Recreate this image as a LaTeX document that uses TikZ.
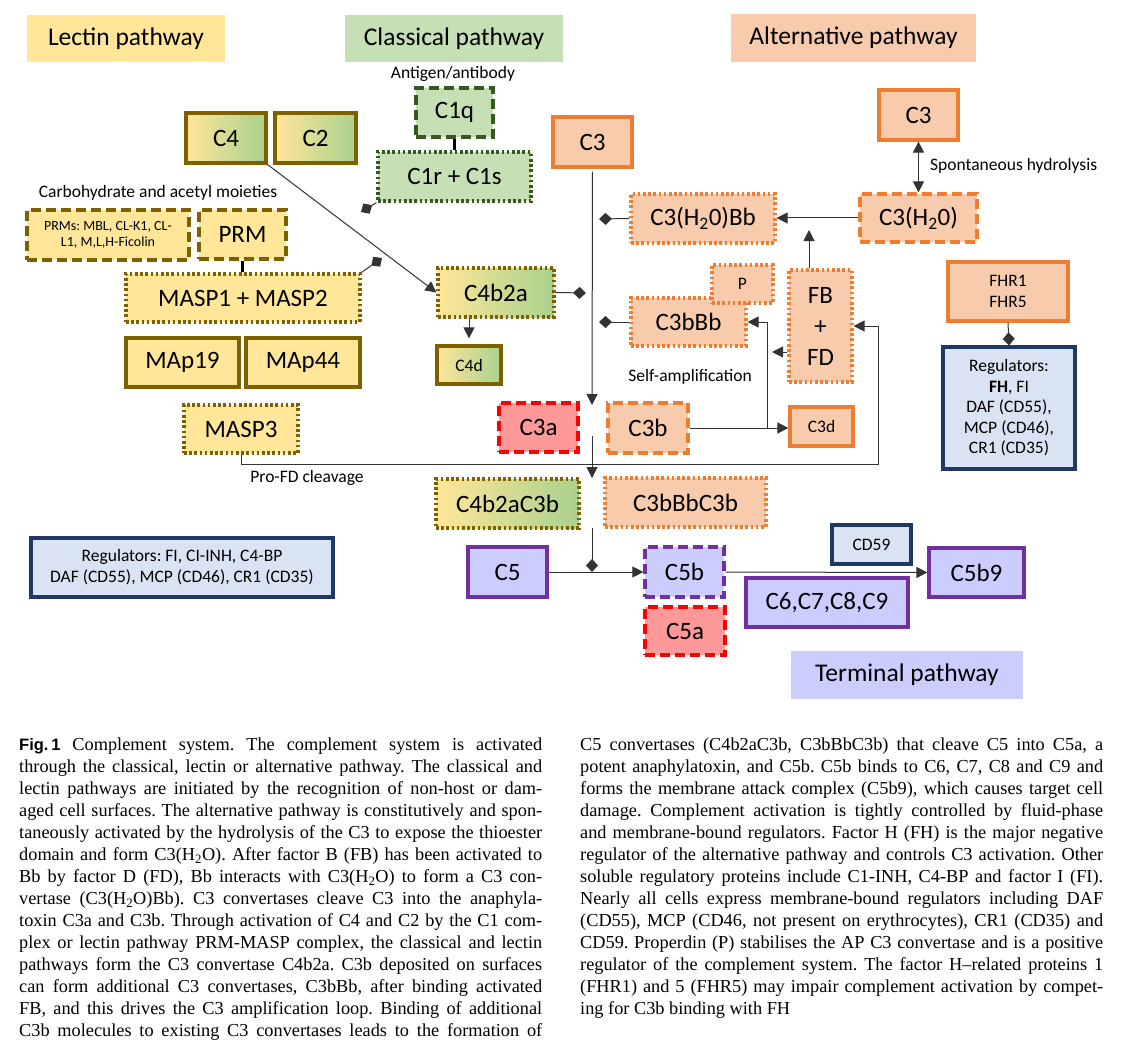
\documentclass[tikz,border=0pt]{standalone}
\usepackage{fontspec}
\setmainfont{Liberation Serif}
\setsansfont{Liberation Sans}
\newfontfamily\calfont{Carlito}
\usepackage{graphicx}
\usetikzlibrary{arrows.meta}
\frenchspacing

\definecolor{yel}{HTML}{FFE699}
\definecolor{grn}{HTML}{C5E0B4}
\definecolor{grnd}{HTML}{A9D18E}
\definecolor{pch}{HTML}{F8CBAD}
\definecolor{brn}{HTML}{7F6000}
\definecolor{dgr}{HTML}{385723}
\definecolor{org}{HTML}{ED7D31}
\definecolor{rd}{HTML}{FF0000}
\definecolor{pnk}{HTML}{FF9999}
\definecolor{pur}{HTML}{7030A0}
\definecolor{lav}{HTML}{CCCCFF}
\definecolor{nvy}{HTML}{203864}
\definecolor{lbl}{HTML}{DAE3F3}

\newlength\colw
\setlength\colw{523pt}
\newsavebox\jlbox
\newcommand\jl[1]{\sbox\jlbox{#1}\ifdim\wd\jlbox>\colw\resizebox{\colw}{\height}{#1}\else\makebox[\colw][s]{#1}\fi\par}
\newcommand\lastl[1]{#1\par}
\newcommand\figl{{\sffamily\bfseries\fontsize{16.5}{22}\selectfont Fig.\,1}}

\newcommand\bx[7]{\node[#1,minimum width={(#5)-(#3)},minimum height={(#6)-(#4)}] (#2) at ({((#3)+(#5))/2},{((#4)+(#6))/2}) {#7};}

\tikzset{
  base/.style={inner sep=0pt, align=center, font=\calfont\fontsize{25}{31}\selectfont, text=black},
  sm/.style={font=\calfont\fontsize{17.5}{21}\selectfont, align=center, inner sep=0pt},
  ttl/.style={inner sep=0pt, font=\calfont\fontsize{25.5}{30}\selectfont},
  solidb/.style={draw, line width=3.2pt},
  dotb/.style={draw, line width=3.2pt, dash pattern=on 2.6pt off 2.6pt},
  dashb/.style={draw, line width=3.2pt, dash pattern=on 10pt off 5pt},
  yelb/.style={fill=yel, draw=brn},
  gradb/.style={left color=yel, right color=grnd, draw=brn},
  greenb/.style={fill=grn, draw=dgr},
  peachb/.style={fill=pch, draw=org},
  redb/.style={fill=pnk, draw=rd},
  purb/.style={fill=lav, draw=pur},
  navb/.style={fill=lbl, draw=nvy, line width=3.2pt},
  con/.style={draw=black!80, line width=1pt},
  arr/.style={con, -{Triangle[length=11pt,width=11pt]}},
  darr/.style={con, {Triangle[length=11pt,width=11pt]}-{Triangle[length=11pt,width=11pt]}},
  dia/.style={con, -{Diamond[length=13pt,width=12pt]}},
  thk/.style={draw=black, line width=3pt},
}

\begin{document}
\begin{tikzpicture}[x=1pt,y=-1pt]
\fill[white] (0,0) rectangle (1135,1051);
\useasboundingbox (0,0) rectangle (1135,1051);

% titles
\bx{ttl, fill=yel}{LT}{27}{15}{225}{62}{Lectin pathway}
\bx{ttl, fill=grn}{CT}{345}{15}{563}{62}{Classical pathway}
\bx{ttl, fill=pch}{AT}{731}{14}{976}{62}{Alternative pathway}
\bx{ttl, fill=lav}{TT}{791}{651}{1023}{699}{Terminal pathway}

% classical
\node[sm] (ag) at (453,74) {Antigen/antibody};
\bx{base, dashb, greenb}{C1q}{416}{88}{493}{137}{C1q}
\bx{base, dotb, greenb}{C1r}{378}{152}{531}{201}{C1r + C1s}

% lectin
\bx{base, solidb, gradb}{C4}{186}{113}{266}{163}{C4}
\bx{base, solidb, gradb}{C2}{275}{113}{356}{163}{C2}
\node[sm] (carb) at (158,193) {Carbohydrate and acetyl moieties};
\bx{base, dashb, yelb, font=\calfont\fontsize{14}{16}\selectfont}{PRMs}{27}{210}{189}{260}{PRMs: MBL, CL-K1, CL-\\L1, M,L,H-Ficolin}
\bx{base, dashb, yelb}{PRM}{199}{210}{286}{259}{PRM}
\bx{base, dotb, yelb}{MASP}{126}{274}{360}{322}{MASP1 + MASP2}
\bx{base, solidb, yelb}{MAp19}{126}{338}{239}{387}{MAp19}
\bx{base, solidb, yelb}{MAp44}{246}{338}{360}{387}{MAp44}
\bx{base, dotb, yelb}{MASP3}{184}{405}{298}{453}{MASP3}
\node[sm] (proFD) at (307,478) {Pro-FD cleavage};

% centre
\bx{base, dotb, gradb}{C4b2a}{438}{268}{554}{317}{C4b2a}
\bx{base, solidb, gradb, font=\calfont\fontsize{17.5}{21}\selectfont}{C4d}{437}{346}{501}{384}{C4d}
\bx{base, solidb, peachb}{C3}{553}{117}{632}{167}{C3}
\bx{base, dashb, redb}{C3a}{499}{403}{578}{452}{C3a}
\bx{base, dashb, peachb}{C3b}{608}{403}{688}{453}{C3b}
\bx{base, dotb, peachb}{C3H2OBb}{631}{194}{775}{243}{C3(H\textsubscript{2}0)Bb}
\bx{base, dotb, peachb}{C3bBb}{631}{298}{746}{346}{C3bBb}
\bx{base, dotb, peachb, font=\calfont\fontsize{17.5}{21}\selectfont}{P}{712}{265}{773}{303}{P}
\bx{base, dotb, peachb}{FBFD}{789}{270}{852}{382}{FB\\+\\FD}
\node[sm] (self) at (690,377) {Self-amplification};
\bx{base, solidb, peachb, font=\calfont\fontsize{17.5}{21}\selectfont}{C3d}{790}{407}{853}{446}{C3d}

% right
\bx{base, solidb, peachb}{C3r}{879}{90}{958}{140}{C3}
\bx{base, dashb, peachb}{C3H2O}{860}{194}{977}{242}{C3(H\textsubscript{2}0)}
\node[sm, anchor=west] (spont) at (930,166) {Spontaneous hydrolysis};
\bx{base, solidb, peachb, font=\calfont\fontsize{17.5}{21}\selectfont}{FHR}{948}{262}{1068}{321}{FHR1\\FHR5}
\bx{base, navb, font=\calfont\fontsize{17.5}{20.5}\selectfont}{RegR}{943}{347}{1075}{469}{Regulators:\\\textbf{FH}, FI\\DAF (CD55),\\MCP (CD46),\\CR1 (CD35)}

% bottom
\bx{base, dotb, gradb}{C4C3b}{436}{479}{579}{528}{C4b2aC3b}
\bx{base, dotb, peachb}{C3C3b}{605}{478}{766}{527}{C3bBbC3b}
\bx{base, navb, font=\calfont\fontsize{17.5}{21}\selectfont}{RegL}{31}{538}{333}{597}{Regulators: FI, CI-INH, C4-BP\\DAF (CD55), MCP (CD46), CR1 (CD35)}
\bx{base, solidb, purb}{C5}{468}{547}{547}{597}{C5}
\bx{base, dashb, purb}{C5b}{645}{547}{724}{597}{C5b}
\bx{base, dashb, redb}{C5a}{645}{607}{725}{655}{C5a}
\bx{base, navb, font=\calfont\fontsize{17.5}{21}\selectfont}{CD59}{832}{525}{911}{564}{CD59}
\bx{base, solidb, purb}{C5b9}{929}{548}{1024}{597}{C5b9}
\bx{base, solidb, purb}{C6}{746}{578}{908}{627}{C6,C7,C8,C9}

% connectors
\draw[thk] (C1q.south) -- (C1r.north);
\coordinate (d1) at (361,212);
\draw[dia] (C1r.south west) -- (d1);
\draw[thk] (PRM.south) -- (PRM.south |- MASP.north);
\coordinate (d2) at (382,258);
\draw[dia] (MASP.north east) -- (d2);
\draw[arr] (C4.south east) -- (C4b2a.west);
\coordinate (d3) at (586,293);
\draw[dia] (C4b2a.east) -- (d3);
\draw[arr, shorten >=6pt] (C4b2a.south -| C4d.north) -- (C4d.north);
\coordinate (s1) at (592,405);
\draw[arr, shorten <=3pt] (C3.south) -- (s1);
\coordinate (s2) at (592,436);
\coordinate (s3) at (592,478);
\draw[arr] (s2) -- (s3);
\coordinate (d4) at (599,219);
\draw[dia] (C3H2OBb.west) -- (d4);
\coordinate (d5) at (599,322);
\draw[dia] (C3bBb.west) -- (d5);
\draw[arr] (C3H2O.west) -- (C3H2O.west -| C3H2OBb.east);
\coordinate (fbu) at (809,230);
\draw[arr] (fbu |- FBFD.north) -- (fbu);
\coordinate (fbl) at (772,352);
\draw[arr] (fbl -| FBFD.west) -- (fbl);
\draw[darr] (C3r.south) -- (C3H2O.north);
\draw[arr] (C3b.east) -- (C3b.east -| C3d.west);
\coordinate (br) at (767,428);
\draw[arr] (br) |- (C3bBb.east);
\coordinate (loop) at (878,464);
\draw[arr] (MASP3.south) |- (loop) |- (FBFD.east);
\draw[dia] (FHR.south) -- (RegR.north);
\coordinate (s4) at (592,528);
\coordinate (d6) at (592,572);
\draw[dia] (s4) -- (d6);
\draw[arr] (C5.east) -- (C5b.west);
\draw[arr] (C5b.east) -- (C5b9.west);

% caption
\node[anchor=base west, inner sep=0pt] (capL) at (19,750.5) {\parbox[t]{\colw}{\fontsize{18.3}{22}\selectfont\parindent0pt
\jl{\figl\ Complement system. The complement system is activated}
\jl{through the classical, lectin or alternative pathway. The classical and}
\jl{lectin pathways are initiated by the recognition of non-host or dam-}
\jl{aged cell surfaces. The alternative pathway is constitutively and spon-}
\jl{taneously activated by the hydrolysis of the C3 to expose the thioester}
\jl{domain and form C3(H\textsubscript{2}O). After factor B (FB) has been activated to}
\jl{Bb by factor D (FD), Bb interacts with C3(H\textsubscript{2}O) to form a C3 con-}
\jl{vertase (C3(H\textsubscript{2}O)Bb). C3 convertases cleave C3 into the anaphyla-}
\jl{toxin C3a and C3b. Through activation of C4 and C2 by the C1 com-}
\jl{plex or lectin pathway PRM-MASP complex, the classical and lectin}
\jl{pathways form the C3 convertase C4b2a. C3b deposited on surfaces}
\jl{can form additional C3 convertases, C3bBb, after binding activated}
\jl{FB, and this drives the C3 amplification loop. Binding of additional}
\jl{C3b molecules to existing C3 convertases leads to the formation of}}};

\node[anchor=base west, inner sep=0pt] (capR) at (580,750.5) {\parbox[t]{\colw}{\fontsize{18.3}{22}\selectfont\parindent0pt
\jl{C5 convertases (C4b2aC3b, C3bBbC3b) that cleave C5 into C5a, a}
\jl{potent anaphylatoxin, and C5b. C5b binds to C6, C7, C8 and C9 and}
\jl{forms the membrane attack complex (C5b9), which causes target cell}
\jl{damage. Complement activation is tightly controlled by fluid-phase}
\jl{and membrane-bound regulators. Factor H (FH) is the major negative}
\jl{regulator of the alternative pathway and controls C3 activation. Other}
\jl{soluble regulatory proteins include C1-INH, C4-BP and factor I (FI).}
\jl{Nearly all cells express membrane-bound regulators including DAF}
\jl{(CD55), MCP (CD46, not present on erythrocytes), CR1 (CD35) and}
\jl{CD59. Properdin (P) stabilises the AP C3 convertase and is a positive}
\jl{regulator of the complement system. The factor H–related proteins 1}
\jl{(FHR1) and 5 (FHR5) may impair complement activation by compet-}
\lastl{ing for C3b binding with FH}}};
\end{tikzpicture}
\end{document}
